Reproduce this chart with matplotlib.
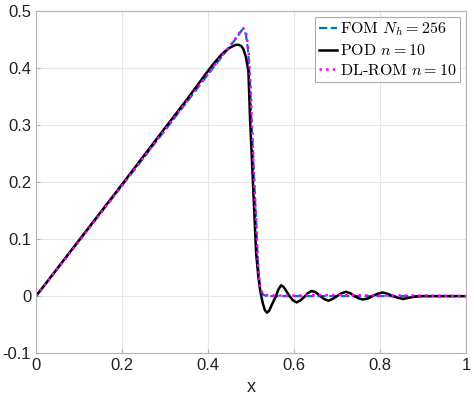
import matplotlib
matplotlib.use('Agg')
import matplotlib.pyplot as plt

# values
x_fom = [0, 0.1, 0.2, 0.3, 0.4, 0.45, 0.465, 0.472, 0.477, 0.481, 0.485, 0.488, 0.491, 0.494,
         0.498, 0.501, 0.505, 0.508, 0.512, 0.515, 0.518, 0.521, 0.525, 0.528,
         0.533, 0.54, 0.6, 0.8, 1.0]
y_fom = [0, 0.097, 0.194, 0.291, 0.389, 0.437, 0.452, 0.459, 0.465, 0.468, 0.466, 0.459, 0.445, 0.424,
         0.37, 0.308, 0.25, 0.192, 0.132, 0.075, 0.04, 0.017, 0.007, 0.003,
         0.001, 0.0, 0.0, 0.0, 0.0]

x_dl = [0, 0.1, 0.2, 0.3, 0.4, 0.45, 0.465, 0.472, 0.478, 0.482, 0.486, 0.489, 0.492, 0.495,
        0.499, 0.502, 0.505, 0.508, 0.512, 0.515, 0.518, 0.521, 0.525, 0.528,
        0.533, 0.54, 0.6, 0.7, 0.8, 0.9, 1.0]
y_dl = [0, 0.096, 0.194, 0.292, 0.390, 0.438, 0.453, 0.461, 0.467, 0.470, 0.468, 0.460, 0.446, 0.424,
        0.37, 0.308, 0.25, 0.192, 0.132, 0.075, 0.04, 0.018, 0.008, 0.004,
        0.002, 0.001, 0.001, 0.002, 0.001, 0.001, 0.0]

x_pod = [0, 0.1, 0.2, 0.3, 0.35, 0.39, 0.41, 0.428, 0.44, 0.451, 0.459, 0.465, 0.471, 0.477,
         0.482, 0.488, 0.494, 0.498, 0.505, 0.512, 0.517, 0.521, 0.525, 0.528, 0.532, 0.537,
         0.542, 0.548, 0.558, 0.564, 0.570, 0.576, 0.582, 0.588, 0.597, 0.606,
         0.614, 0.623, 0.632, 0.641, 0.650, 0.660, 0.670, 0.680, 0.690, 0.700,
         0.710, 0.721, 0.731, 0.741, 0.751, 0.761, 0.772, 0.783, 0.794, 0.806,
         0.818, 0.830, 0.842, 0.854, 0.866, 0.88, 0.9, 1.0]
y_pod = [0, 0.098, 0.196, 0.295, 0.344, 0.385, 0.405, 0.421, 0.430, 0.436, 0.439, 0.441, 0.441, 0.439,
         0.434, 0.420, 0.395, 0.308, 0.192, 0.075, 0.035, 0.012, -0.004, -0.014, -0.024, -0.029,
         -0.026, -0.016, 0.0, 0.012, 0.019, 0.016, 0.009, 0.002, -0.007, -0.011,
         -0.008, -0.002, 0.005, 0.009, 0.007, 0.001, -0.005, -0.008, -0.005, 0.0,
         0.005, 0.0076, 0.005, 0.0, -0.004, -0.006, -0.004, 0.0, 0.004, 0.0064,
         0.004, 0.0, -0.003, -0.005, -0.003, -0.001, 0.0, 0.0]

plt.rcParams['mathtext.fontset'] = 'cm'
plt.rcParams['font.family'] = 'Liberation Sans'
plt.rcParams['axes.unicode_minus'] = False

fig = plt.figure(figsize=(4.74, 3.99), dpi=100)
ax = fig.add_axes([0.076, 0.115, 0.907, 0.857])

ax.plot(x_fom, y_fom, '--', color='#0072BD', linewidth=1.6, label=r'FOM $N_h = 256$')
ax.plot(x_pod, y_pod, '-', color='black', linewidth=1.8, label=r'POD $n = 10$')
ax.plot(x_dl, y_dl, ':', color='#FF00FF', linewidth=1.8, label=r'DL-ROM $n = 10$')

ax.set_xlim(0, 1)
ax.set_ylim(-0.1, 0.5)
ax.set_xticks([0, 0.2, 0.4, 0.6, 0.8, 1])
ax.set_xticklabels(['0', '0.2', '0.4', '0.6', '0.8', '1'])
ax.set_yticks([-0.1, 0, 0.1, 0.2, 0.3, 0.4, 0.5])
ax.set_yticklabels(['-0.1', '0', '0.1', '0.2', '0.3', '0.4', '0.5'])
ax.grid(True, color='#e6e6e6', linewidth=0.8)
ax.set_axisbelow(True)
for s in ax.spines.values():
    s.set_color('#b3b3b3')
ax.tick_params(direction='in', length=3, color='#b3b3b3', labelsize=12, labelcolor='#222222')
ax.set_xlabel('x', fontsize=13, color='#222222', labelpad=4)

leg = ax.legend(loc='upper right', prop={'family': 'cmr10', 'size': 11.5},
                handlelength=1.15, handletextpad=0.15, borderpad=0.25,
                labelspacing=0.3, borderaxespad=0.35, fancybox=False)
leg.get_frame().set_edgecolor('#999999')
leg.get_frame().set_linewidth(0.8)

fig.savefig('out.png', dpi=100)
